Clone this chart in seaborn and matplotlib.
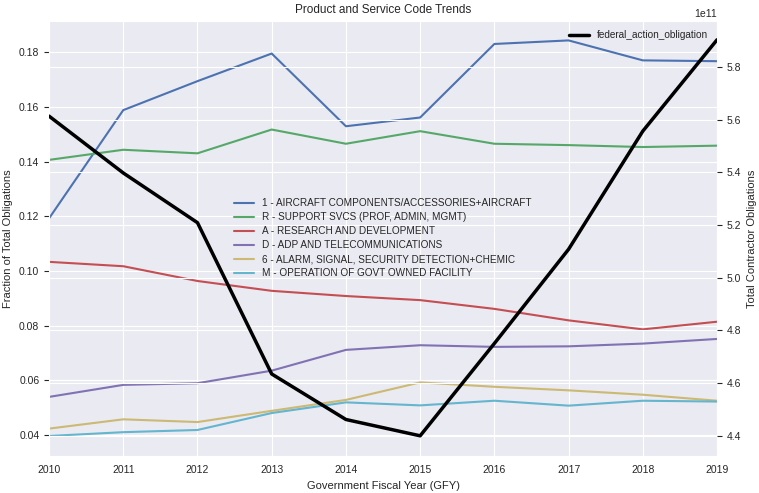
import numpy as np
import pandas as pd
import matplotlib
matplotlib.use('Agg')
import matplotlib.pyplot as plt
import seaborn as sns

# fiscal years
years = [2010, 2011, 2012, 2013, 2014, 2015, 2016, 2017, 2018, 2019]

# fraction of total obligations per product/service code
aircraft = [0.1193, 0.1589, 0.1695, 0.1796, 0.1530, 0.1562, 0.1831, 0.1844, 0.1771, 0.1768]
support = [0.1407, 0.1444, 0.1431, 0.1518, 0.1466, 0.1512, 0.1466, 0.1461, 0.1454, 0.1459]
research = [0.1034, 0.1018, 0.0964, 0.0928, 0.0909, 0.0894, 0.0862, 0.0820, 0.0787, 0.0815]
adp = [0.0540, 0.0584, 0.0590, 0.0636, 0.0712, 0.0729, 0.0723, 0.0725, 0.0735, 0.0752]
alarm = [0.0424, 0.0458, 0.0448, 0.0489, 0.0529, 0.0593, 0.0577, 0.0564, 0.0548, 0.0526]
govt_facility = [0.0397, 0.0411, 0.0419, 0.0481, 0.0520, 0.0509, 0.0526, 0.0508, 0.0526, 0.0523]

codes = [
    '1 - AIRCRAFT COMPONENTS/ACCESSORIES+AIRCRAFT',
    'R - SUPPORT SVCS (PROF, ADMIN, MGMT)',
    'A - RESEARCH AND DEVELOPMENT',
    'D - ADP AND TELECOMMUNICATIONS',
    '6 - ALARM, SIGNAL, SECURITY DETECTION+CHEMIC',
    'M - OPERATION OF GOVT OWNED FACILITY',
]

# total contractor obligations (dollars)
federal_action_obligation = [5.614e11, 5.398e11, 5.209e11, 4.634e11, 4.461e11,
                             4.399e11, 4.750e11, 5.108e11, 5.557e11, 5.904e11]

fractions = pd.DataFrame(
    {c: v for c, v in zip(codes, [aircraft, support, research, adp, alarm, govt_facility])},
    index=years)
long_df = fractions.reset_index().melt(id_vars='index', var_name='code', value_name='fraction')
long_df = long_df.rename(columns={'index': 'year'})

totals = pd.DataFrame({'year': years, 'federal_action_obligation': federal_action_obligation})

sns.set_style('darkgrid')
plt.rcParams['font.family'] = ['Liberation Sans', 'DejaVu Sans']
plt.rcParams['text.color'] = '.15'
plt.rcParams['axes.labelcolor'] = '.15'
plt.rcParams['xtick.color'] = '.15'
plt.rcParams['ytick.color'] = '.15'

fig = plt.figure(figsize=(7.59, 4.93), dpi=100)
ax = fig.add_axes([0.0646, 0.0757, 0.8801, 0.8817])

sns.lineplot(data=long_df, x='year', y='fraction', hue='code', hue_order=codes,
             palette=sns.color_palette('deep6'), linewidth=1.5, ax=ax)
ax.set_xlim(2010, 2019)
ax.set_xticks(years)
ax.set_xticklabels([str(y) for y in years])
ax.set_ylim(0.0325, 0.1915)
ax.set_xlabel('Government Fiscal Year (GFY)', fontsize=8)
ax.set_ylabel('Fraction of Total Obligations', fontsize=8)
ax.set_title('Product and Service Code Trends', fontsize=8.5)
ax.tick_params(labelsize=7.5)
ax.legend(loc='center', frameon=False, fontsize=7.2, labelspacing=0.4)

ax2 = ax.twinx()
sns.lineplot(data=totals, x='year', y='federal_action_obligation', color='black',
             linewidth=2.5, label='federal_action_obligation', ax=ax2)
ax2.set_ylim(4.3235e11, 5.9755e11)
ax2.set_ylabel('Total Contractor Obligations', fontsize=8)
ax2.tick_params(labelsize=7.5)
ax2.yaxis.get_offset_text().set_fontsize(7.5)
ax2.legend(loc='upper right', frameon=False, fontsize=7.2)
for s in ax2.spines.values():
    s.set_visible(False)

fig.savefig('out.png', dpi=100)
